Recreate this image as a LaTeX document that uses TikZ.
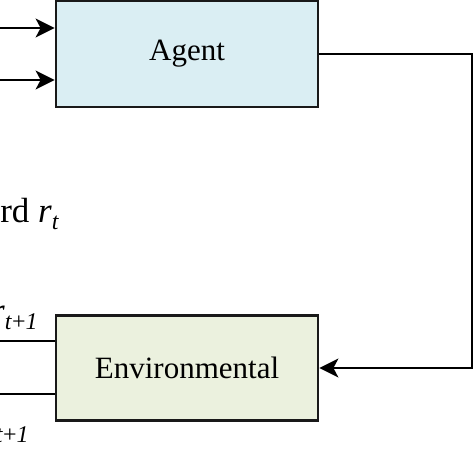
\documentclass[tikz,border=0pt]{standalone}
\usepackage{fontspec}
\setmainfont{Liberation Serif}
\usetikzlibrary{arrows.meta}
\definecolor{agentblue}{RGB}{218,238,243}
\definecolor{envgreen}{RGB}{235,241,222}
\newcommand\lowsub[1]{\raisebox{-3.5pt}{\fontsize{12}{13}\selectfont\itshape #1}}
\begin{document}
\begin{tikzpicture}[line join=miter,x=.5pt,y=-.5pt,
	box/.style={draw=black!90,line width=1.4pt,inner sep=0pt,minimum width=131pt,font=\fontsize{15.5}{18}\selectfont},
	lbl/.style={inner sep=0pt,anchor=base east,font=\fontsize{17.5}{20}\selectfont},
	arr/.style={line width=1pt,-{Stealth[length=9.5pt,width=9.5pt,inset=2.5pt]}}]
	\useasboundingbox (0,0) rectangle (474,474);
	\clip (0,0) rectangle (474,474);
	\node[box,fill=agentblue,minimum height=53pt] (agent) at (187,54) {Agent};
	\node[box,fill=envgreen,minimum height=52.5pt] (env) at (187,368) {Environmental};
	\coordinate (loop) at (472,0);
	\foreach \y in {28,80} \draw[arr] (-40,\y) -- (agent.west |- 0,\y);
	\foreach \y in {341,394} \draw[line width=1pt] (env.west |- 0,\y) -- (-40,\y);
	\draw[arr] (agent.east) -- (agent.east -| loop) |- (env.east);
	\node[lbl] (reward) at (59,223) {reward \textit{r}\lowsub{t}};
	\node[lbl] (rnext) at (38,322) {\textit{r}\lowsub{t\textup{+}1}};
	\node[lbl] (snext) at (29,435) {\textit{s}\lowsub{t\textup{+}1}};
\end{tikzpicture}
\end{document}
